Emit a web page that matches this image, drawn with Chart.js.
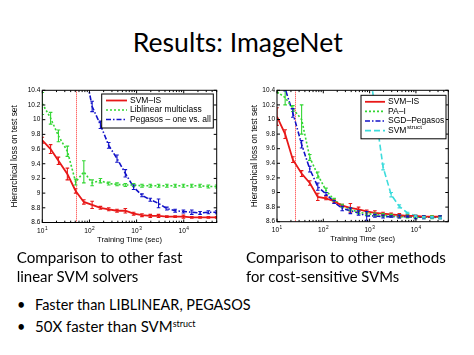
<!DOCTYPE html>
<html><head><meta charset="utf-8">
<script src="https://cdn.jsdelivr.net/npm/chart.js"></script>
<style>
html,body{margin:0;padding:0;background:#fff;width:474px;height:355px;overflow:hidden;}
.t{position:absolute;left:0;top:0;white-space:nowrap;font-family:Lato,'Open Sans',sans-serif;color:#000;line-height:1.2;}
.t sup{font-size:0.6em;vertical-align:0.6em;line-height:0;}
canvas{position:absolute;}
</style></head><body>
<canvas id="c1" width="225" height="170" style="left:0;top:80px;width:225px;height:170px"></canvas>
<canvas id="c2" width="220" height="170" style="left:235px;top:80px;width:220px;height:170px"></canvas>
<div class="t" id="title" style="font-size:28px">Results: ImageNet</div>
<div class="t" id="capL1" style="font-size:18px">Comparison to other fast</div>
<div class="t" id="capL2" style="font-size:18px">linear SVM solvers</div>
<div class="t" id="capR1" style="font-size:18px">Comparison to other methods</div>
<div class="t" id="capR2" style="font-size:18px">for cost-sensitive SVMs</div>
<div class="t" id="d1" style="font-size:18px">•</div>
<div class="t" id="d2" style="font-size:18px">•</div>
<div class="t" id="b1" style="font-size:18px">Faster than LIBLINEAR, PEGASOS</div>
<div class="t" id="b2" style="font-size:18px">50X faster than SVM<sup>struct</sup></div>
<script>
// ---------- data ----------
const times = [10, 15, 22, 34, 51, 76, 114, 171, 256, 384, 577, 865, 1300, 1950, 2920, 4380, 6570, 9850, 14800, 22200, 33300, 49900];

const yTicks = [8.6, 8.8, 9, 9.2, 9.4, 9.6, 9.8, 10, 10.2, 10.4];
const yTickLabels = ['8.6', '8.8', '9', '9.2', '9.4', '9.6', '9.8', '10', '10.2', '10.4'];
const xMajorTicks = [10, 100, 1000, 10000];
const xTickLabels = ['10^1', '10^2', '10^3', '10^4'];

// left chart: comparison to other fast linear SVM solvers
const leftLabels = ['SVM–IS', 'Liblinear multiclass', 'Pegasos – one vs. all'];
const leftSvmIs = [9.72, 9.60, 9.44, 9.26, 9.03, 8.88, 8.84, 8.80, 8.78, 8.76, 8.76, 8.72, 8.70, 8.69, 8.69, 8.68, 8.68, 8.68, 8.67, 8.67, 8.67, 8.67];
const leftSvmIsErr = [0.04, 0.06, 0.05, 0.08, 0.03, 0.03, 0.05, 0.02, 0.02, 0.02, 0.03, 0.02, 0.02, 0.02, 0.02, 0.01, 0.01, 0.02, 0.01, 0.01, 0.01, 0.01];
const leftLiblinear = [10.22, 10.02, 9.78, 9.57, 9.15, 9.29, 9.14, 9.17, 9.13, 9.12, 9.11, 9.11, 9.10, 9.10, 9.10, 9.10, 9.10, 9.10, 9.10, 9.10, 9.09, 9.09];
const leftLiblinearErr = [0.15, 0.08, 0.08, 0.07, 0.04, 0.15, 0.04, 0.03, 0.02, 0.02, 0.02, 0.02, 0.02, 0.02, 0.02, 0.02, 0.02, 0.02, 0.02, 0.02, 0.02, 0.02];
const leftPegasos = [null, null, null, null, null, 10.75, 10.18, 9.93, 9.65, 9.47, 9.27, 9.08, 8.97, 8.91, 8.86, 8.79, 8.76, 8.75, 8.74, 8.73, 8.74, 8.74];
const leftPegasosErr = [0, 0, 0, 0, 0, 0, 0.07, 0.05, 0.04, 0.05, 0.05, 0.03, 0.02, 0.02, 0.06, 0.02, 0.02, 0.02, 0.03, 0.02, 0.02, 0.02];
const leftCutoff = [51];

// right chart: comparison to other methods for cost-sensitive SVMs
const rightLabels = ['SVM–IS', 'PA–I', 'SGD–Pegasos', 'SVM^struct'];
const rightSvmIs = [10.04, 9.80, 9.45, 9.26, 9.13, 8.94, 8.92, 8.88, 8.82, 8.79, 8.77, 8.74, 8.72, 8.71, 8.70, 8.69, 8.68, 8.68, 8.67, 8.67, 8.67];
const rightSvmIsErr = [0.12, 0.06, 0.04, 0.04, 0.03, 0.05, 0.02, 0.02, 0.02, 0.06, 0.03, 0.02, 0.03, 0.02, 0.02, 0.02, 0.02, 0.01, 0.01, 0.01, 0.01];
const rightPaI = [10.38, 10.30, 10.15, 10.0, 9.48, 9.24, 9.03, 8.90, 8.82, 8.77, 8.73, 8.71, 8.70, 8.69, 8.68, 8.67, 8.67, 8.66, 8.66, 8.66, 8.66];
const rightPaIErr = [0.02, 0.10, 0.04, 0.20, 0.04, 0.04, 0.03, 0.02, 0.02, 0.02, 0.02, 0.02, 0.02, 0.02, 0.02, 0.02, 0.02, 0.02, 0.02, 0.02, 0.02];
const rightSgd = [10.8, 10.42, 10.09, 9.66, 9.32, 9.08, 8.98, 8.87, 8.78, 8.75, 8.72, 8.68, 8.68, 8.67, 8.67, 8.67, 8.67, 8.66, 8.66, 8.66, 8.66];
const rightSgdErr = [0, 0.03, 0.06, 0.05, 0.04, 0.05, 0.02, 0.02, 0.03, 0.04, 0.03, 0.06, 0.02, 0.02, 0.01, 0.02, 0.01, 0.02, 0.02, 0.01, 0.02];
const rightStruct = [null, null, null, null, null, null, null, null, null, null, null, 11.0, 10.15, 9.35, 8.97, 8.81, 8.72, 8.68, 8.66, 8.66, 8.65];
const rightStructErr = [0, 0, 0, 0, 0, 0, 0, 0, 0, 0, 0, 0, 0.04, 0.04, 0.03, 0.02, 0.01, 0.01, 0.01, 0.01, 0.01];
const rightCutoff = [25];

// ---------- styles ----------
const RED = '#e81818', GREEN = '#33d633', BLUE = '#1212c8', CYAN = '#3ddcdc';
const TICK_FONT = {family: "'Liberation Sans', Arial, sans-serif", size: 6.5};
const AXIS_FONT = "'Liberation Sans', Arial, sans-serif";

function toXY(vals) { return vals.map((v, i) => ({x: times[i], y: v})); }

function series(label, vals, errs, color, dash, width) {
  return {label, data: toXY(vals), errors: errs, borderColor: color, backgroundColor: color,
    borderDash: dash, borderWidth: width, pointRadius: 0, tension: 0, fill: false, spanGaps: false};
}

function drawLabel(ctx, text, x, y, size, align) {
  const parts = text.split('^');
  ctx.font = size + 'px ' + AXIS_FONT;
  const w0 = ctx.measureText(parts[0]).width;
  ctx.font = (size * 0.72) + 'px ' + AXIS_FONT;
  const w1 = parts[1] ? ctx.measureText(parts[1]).width + 0.5 : 0;
  let sx = align === 'center' ? x - (w0 + w1) / 2 : x;
  ctx.textBaseline = 'middle';
  ctx.textAlign = 'left';
  ctx.font = size + 'px ' + AXIS_FONT;
  ctx.fillText(parts[0], sx, y);
  if (parts[1]) {
    ctx.font = (size * 0.72) + 'px ' + AXIS_FONT;
    ctx.fillText(parts[1], sx + w0 + 0.5, y - size * 0.38);
  }
}

const matlabPlugin = {
  id: 'matlab',
  beforeDatasetsDraw(chart, args, opts) {
    const {ctx, chartArea: a, scales: {x}} = chart;
    ctx.save();
    ctx.strokeStyle = '#ff2a2a'; ctx.lineWidth = 1; ctx.setLineDash([1, 1]);
    opts.cutoff.forEach(v => {
      const px = Math.round(x.getPixelForValue(v)) + 0.5;
      ctx.beginPath(); ctx.moveTo(px, a.top); ctx.lineTo(px, a.bottom); ctx.stroke();
    });
    ctx.restore();
  },
  afterDatasetsDraw(chart) {
    const {ctx, chartArea: a, scales: {x, y}} = chart;
    ctx.save();
    ctx.beginPath(); ctx.rect(a.left, a.top, a.width, a.height); ctx.clip();
    chart.data.datasets.forEach(ds => {
      ctx.strokeStyle = ds.borderColor; ctx.lineWidth = 1.1; ctx.setLineDash([]);
      ds.data.forEach((p, j) => {
        const e = ds.errors[j];
        if (p.y == null || !e) return;
        const px = x.getPixelForValue(p.x);
        const y1 = y.getPixelForValue(p.y - e), y2 = y.getPixelForValue(p.y + e);
        ctx.beginPath();
        ctx.moveTo(px, y1); ctx.lineTo(px, y2);
        ctx.moveTo(px - 1.8, y1); ctx.lineTo(px + 1.8, y1);
        ctx.moveTo(px - 1.8, y2); ctx.lineTo(px + 1.8, y2);
        ctx.stroke();
      });
    });
    ctx.restore();
  },
  afterDraw(chart, args, opts) {
    const {ctx, chartArea: a, scales: {x, y}} = chart;
    ctx.save();
    ctx.strokeStyle = '#000'; ctx.lineWidth = 1; ctx.setLineDash([]);
    // ticks
    ctx.beginPath();
    x.ticks.forEach(t => {
      const px = x.getPixelForValue(t.value);
      const len = xMajorTicks.includes(t.value) ? 3 : 1.8;
      ctx.moveTo(px, a.bottom); ctx.lineTo(px, a.bottom - len);
      ctx.moveTo(px, a.top); ctx.lineTo(px, a.top + len);
    });
    yTicks.forEach(v => {
      const py = y.getPixelForValue(v);
      ctx.moveTo(a.left, py); ctx.lineTo(a.left + 3, py);
      ctx.moveTo(a.right, py); ctx.lineTo(a.right - 3, py);
    });
    ctx.stroke();
    ctx.strokeRect(a.left, a.top, a.width, a.height);
    // x tick labels (10 with superscript exponent)
    ctx.fillStyle = '#000';
    xMajorTicks.forEach((v, k) => {
      drawLabel(ctx, xTickLabels[k], x.getPixelForValue(v), a.bottom + 8.6, 6.6, 'center');
    });
    // legend
    const L = opts.legend;
    const bx = a.right - L.rightGap - L.width, by = a.top + L.topGap;
    ctx.fillStyle = '#fff';
    ctx.fillRect(bx, by, L.width, L.height);
    ctx.strokeStyle = '#000'; ctx.lineWidth = 1;
    ctx.strokeRect(bx, by, L.width, L.height);
    chart.data.datasets.forEach((ds, i) => {
      const cy = by + L.rowStart + i * L.rowGap;
      ctx.strokeStyle = ds.borderColor; ctx.lineWidth = ds.borderWidth; ctx.setLineDash(ds.borderDash || []);
      ctx.beginPath(); ctx.moveTo(bx + L.lineX, cy); ctx.lineTo(bx + L.lineX + L.lineLen, cy); ctx.stroke();
      ctx.setLineDash([]);
      ctx.fillStyle = '#000';
      drawLabel(ctx, ds.label, bx + L.textX, cy, 8.5);
    });
    ctx.restore();
  }
};

function makeChart(id, datasets, cutoff, lay) {
  return new Chart(document.getElementById(id), {
    type: 'line',
    data: {datasets},
    plugins: [matlabPlugin],
    options: {
      responsive: false, animation: false, events: [],
      layout: {padding: {top: lay.top, right: lay.right, left: 0, bottom: 0}},
      plugins: {legend: {display: false}, tooltip: {enabled: false}, matlab: {cutoff, legend: lay.legend}},
      scales: {
        x: {
          type: 'logarithmic', min: 10, max: 50000,
          grid: {display: false, drawTicks: false}, border: {display: false},
          afterBuildTicks: s => {
            const tk = [];
            for (let d = 10; d <= 10000; d *= 10) for (let m = 1; m <= 9; m++) { if (d * m <= 50000) tk.push({value: d * m}); }
            s.ticks = tk;
          },
          afterFit: s => { s.height = lay.xAxisH; },
          ticks: {autoSkip: false, maxRotation: 0, minRotation: 0, padding: 2.5, color: '#000', font: TICK_FONT,
            callback: () => ''},
          title: {display: true, text: 'Training Time (sec)', color: '#000',
                  font: {family: AXIS_FONT, size: 7.6}, padding: {top: 0, bottom: lay.xTitlePad}}
        },
        y: {
          min: 8.6, max: 10.4,
          grid: {display: false, drawTicks: false}, border: {display: false},
          afterBuildTicks: s => { s.ticks = yTicks.map(v => ({value: v})); },
          afterFit: s => { s.width = lay.yAxisW; },
          ticks: {padding: 2, color: '#000', font: TICK_FONT, callback: (v, i) => yTickLabels[i]},
          title: {display: true, text: 'Hierarchical loss on test set', color: '#000',
                  font: {family: AXIS_FONT, size: 8.4}, padding: {top: lay.yTitlePad, bottom: 0}}
        }
      }
    }
  });
}

makeChart('c1', [
  series(leftLabels[0], leftSvmIs, leftSvmIsErr, RED, [], 1.8),
  series(leftLabels[1], leftLiblinear, leftLiblinearErr, GREEN, [2, 2], 1.6),
  series(leftLabels[2], leftPegasos, leftPegasosErr, BLUE, [5, 2, 1.5, 2], 1.6)
], leftCutoff, {top: 10.3, right: 8.3, xAxisH: 27.5, yAxisW: 42.3, xTitlePad: 5.5, yTitlePad: 10,
  legend: {rightGap: 3.4, topGap: 3.7, width: 111.6, height: 34, rowStart: 6.5, rowGap: 9.5, lineX: 4.3, lineLen: 21, textX: 28.3}});

makeChart('c2', [
  series(rightLabels[0], rightSvmIs, rightSvmIsErr, RED, [], 1.8),
  series(rightLabels[1], rightPaI, rightPaIErr, GREEN, [2, 2], 1.6),
  series(rightLabels[2], rightSgd, rightSgdErr, BLUE, [5, 2, 1.5, 2], 1.6),
  series(rightLabels[3], rightStruct, rightStructErr, CYAN, [6, 3], 1.6)
], rightCutoff, {top: 10.3, right: 6.7, xAxisH: 28.3, yAxisW: 42, xTitlePad: 6.2, yTitlePad: 15,
  legend: {rightGap: 2.3, topGap: 5, width: 85, height: 43.5, rowStart: 6.5, rowGap: 9.6, lineX: 4, lineLen: 20, textX: 27}});

// ---------- slide text placement ----------
function placeText(id, x, baseline, width, center, fixedSize) {
  const el = document.getElementById(id);
  if (fixedSize) el.style.fontSize = fixedSize + 'px';
  else {
    const w0 = el.getBoundingClientRect().width;
    el.style.fontSize = (parseFloat(getComputedStyle(el).fontSize) * width / w0) + 'px';
  }
  const r = el.getBoundingClientRect();
  const mk = document.createElement('span');
  mk.style.cssText = 'display:inline-block;width:0;height:0;vertical-align:baseline;';
  el.appendChild(mk);
  const by = mk.getBoundingClientRect().top - r.top;
  el.style.top = (baseline - by) + 'px';
  el.style.left = (center ? x - r.width / 2 : x) + 'px';
  return parseFloat(el.style.fontSize);
}
placeText('title', 237.7, 52.3, 210, true);
placeText('capL1', 16.7, 263.3, 166);
placeText('capL2', 16.7, 282.3, 121.7);
placeText('capR1', 246, 263.3, 200);
placeText('capR2', 246, 282.3, 153.3);
const bs = placeText('b1', 35, 310, 215.7);
placeText('b2', 35, 332.3, 160.7);
placeText('d1', 17, 310, 0, false, bs);
placeText('d2', 17, 332.3, 0, false, bs);
</script>
</body></html>
